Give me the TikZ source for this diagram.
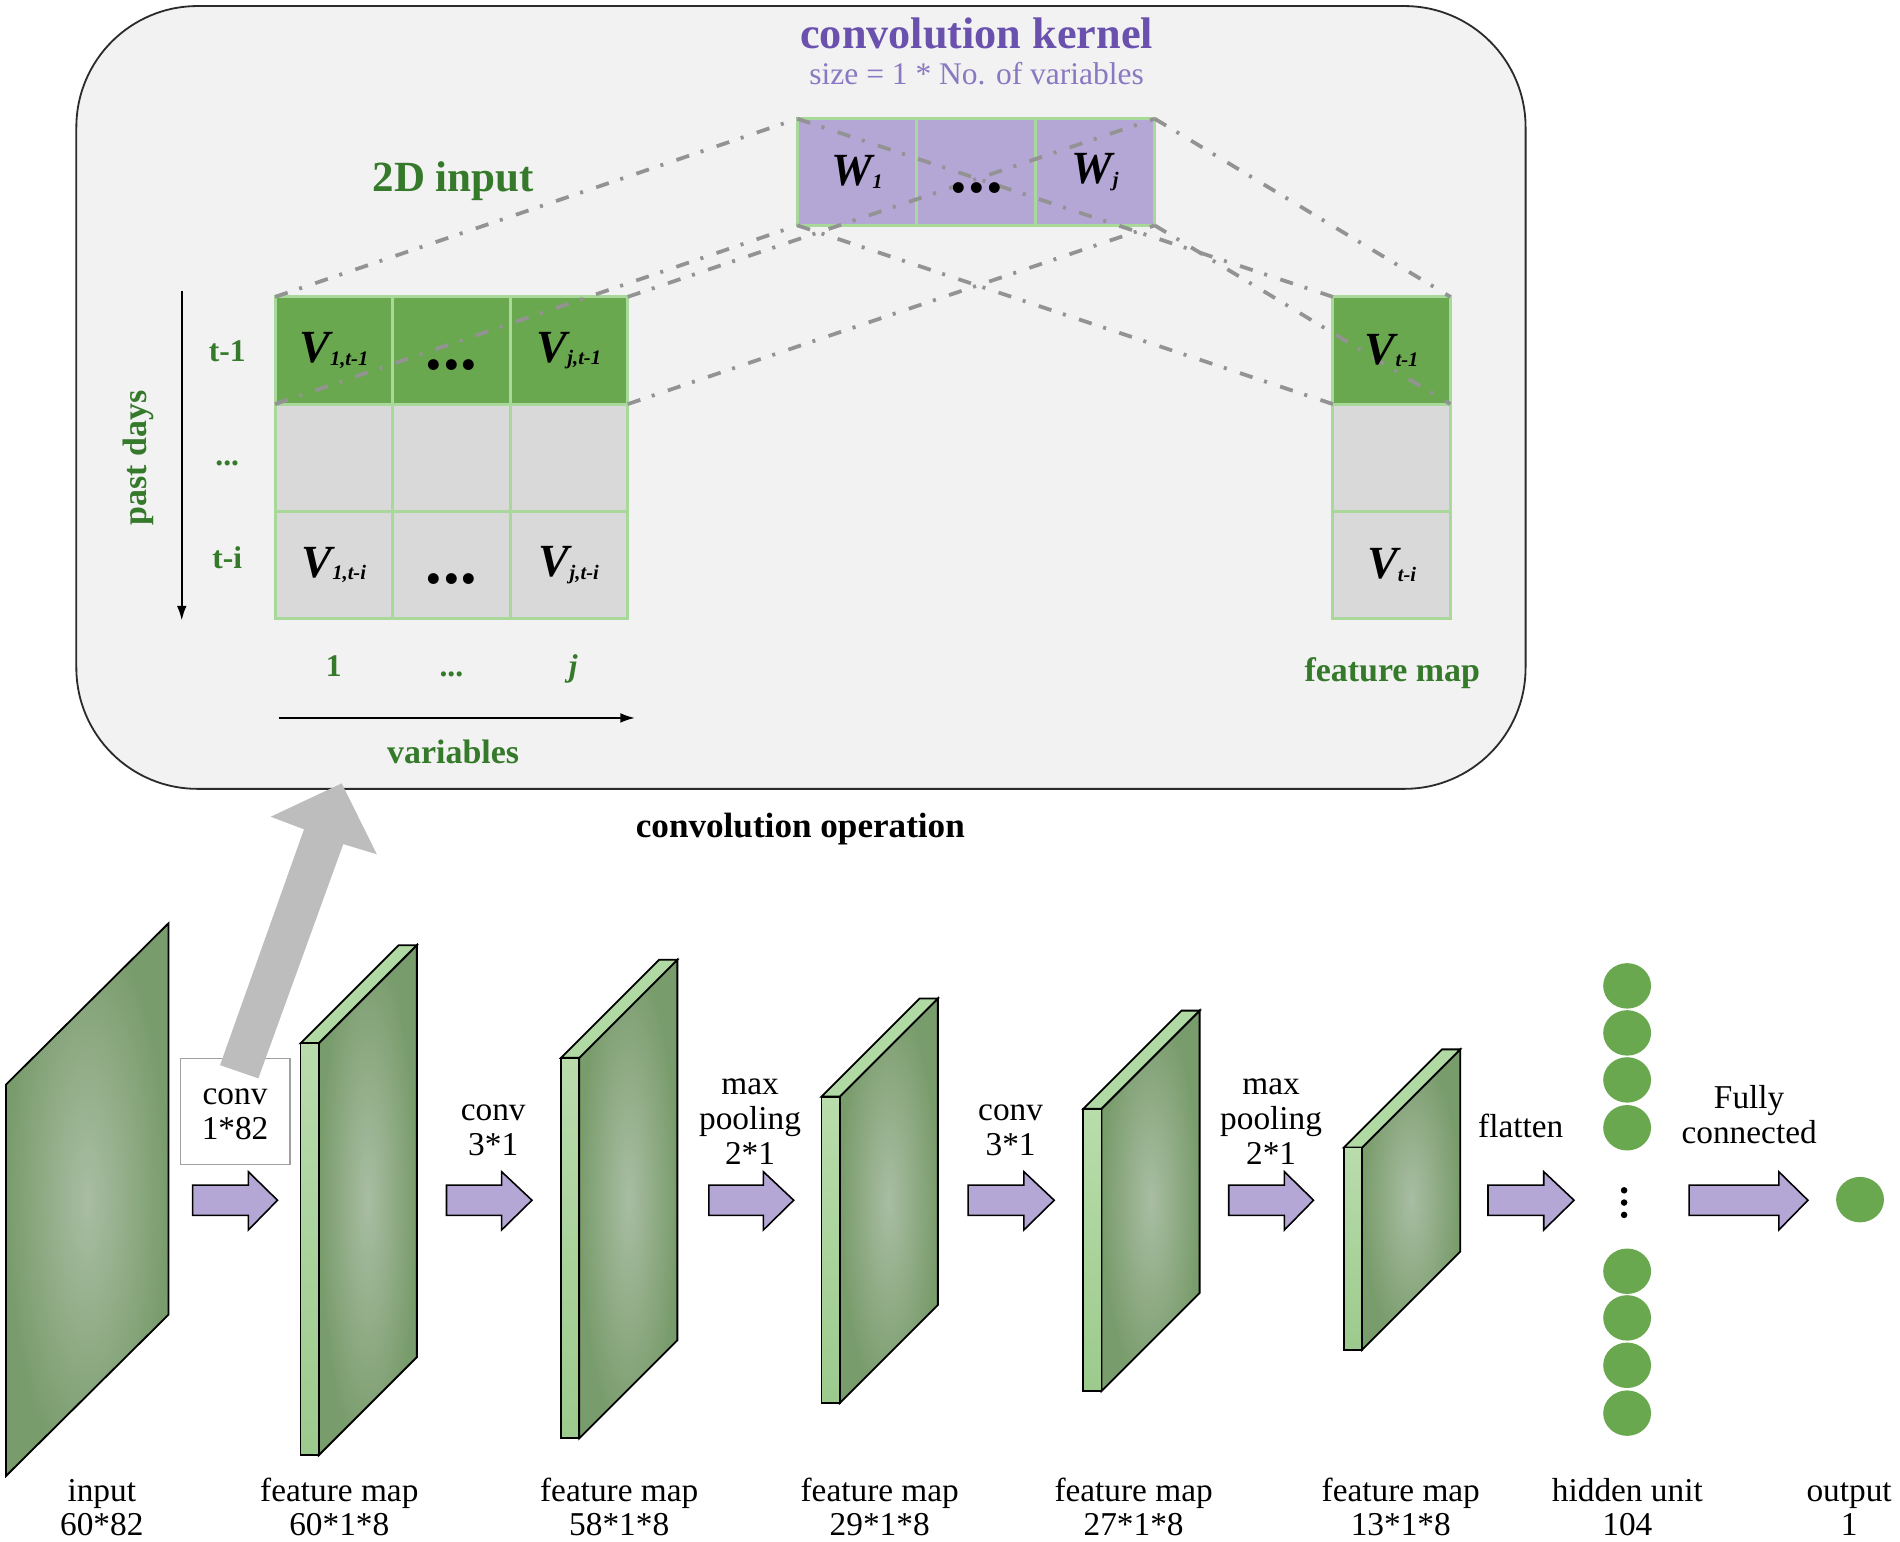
\documentclass[tikz,border=0pt]{standalone}
\usepackage{fontspec}
\setmainfont{Liberation Serif}
\usetikzlibrary{arrows.meta,shapes.geometric}
\definecolor{cgreen}{HTML}{6AA84F}
\definecolor{cborder}{HTML}{A8D89A}
\definecolor{cgray}{HTML}{D9D9D9}
\definecolor{cpurple}{HTML}{B4A7D6}
\definecolor{boxfill}{HTML}{F2F2F2}
\definecolor{boxedge}{HTML}{2B2B2B}
\definecolor{tgreen}{HTML}{35792A}
\definecolor{tpurple}{HTML}{6A51AE}
\definecolor{tpurple2}{HTML}{8A78C2}
\definecolor{dashgray}{HTML}{939393}
\definecolor{bigarrow}{HTML}{BDBDBD}
\definecolor{convedge}{HTML}{A0A0A0}
\definecolor{slabin}{HTML}{A9BDA2}
\definecolor{slabout}{HTML}{799C6C}
\definecolor{slabtop}{HTML}{B0D9A3}
\definecolor{frontA}{HTML}{B9DCAB}
\definecolor{frontM}{HTML}{CBE5C1}
\definecolor{frontB}{HTML}{9CCA8D}
\newcommand{\setfs}[1]{\fontsize{#1}{#1}\selectfont}
\newcommand{\vlab}[2]{#1\raisebox{-2pt}{\setfs{17}#2}}
\newcommand{\drawslab}[3]{%
  \shadedraw[slabedge, inner color=slabin, outer color=slabout] ({#1+15},#2) -- ({#1+96},{#2-81}) -- ({#1+96},{#3-81}) -- ({#1+15},#3) -- cycle;
  \filldraw[slabedge, fill=slabtop] (#1,#2) -- ({#1+15},#2) -- ({#1+96},{#2-81}) -- ({#1+81},{#2-81}) -- cycle;
  \shadedraw[slabedge, top color=frontA, middle color=frontM, bottom color=frontB] (#1,#2) rectangle ({#1+15},#3);
}
\newcommand{\blockarrow}[3]{%
  \filldraw[barrow] (#1,978) -- (#2,978) -- (#2,967) -- (#3,990.5) -- (#2,1015) -- (#2,1003) -- (#1,1003) -- cycle;
}
\tikzset{
  cellbox/.style={draw=cborder, line width=2.5, minimum width=97, minimum height=88.5, inner sep=0, outer sep=0},
  kcell/.style={cellbox, fill=cpurple, minimum width=98.3, minimum height=88},
  vl/.style={inner sep=0, font=\setfs{38}\bfseries\itshape},
  dots/.style={inner sep=0, anchor=base, font=\setfs{55}\bfseries},
  glbl/.style={inner sep=0, anchor=base, text=tgreen, font=\setfs{28}\bfseries},
  rlbl/.style={inner sep=0, anchor=base, text=tgreen, font=\setfs{26}\bfseries},
  lbl/.style={inner sep=0, anchor=base, font=\setfs{27.5}},
  dd/.style={draw=dashgray, line width=3.1, dash pattern=on 11pt off 10pt on 2.5pt off 11.5pt},
  barrow/.style={fill=cpurple, draw=black, line width=1.3},
  slabedge/.style={draw=black, line width=1.5},
  axisarrow/.style={line width=1.5, -{Latex[length=12,width=8]}},
  hid/.style={ellipse, fill=cgreen, minimum width=39.5, minimum height=37.5, inner sep=0},
}
\begin{document}
\begin{tikzpicture}[x=1pt,y=-1pt]
\useasboundingbox (0,0) rectangle (1568,1272);
\fill[white] (0,0) rectangle (1568,1272);

% ---------- convolution operation box ----------
\node[draw=boxedge, fill=boxfill, line width=1.5, rounded corners=100, minimum width=1196, minimum height=646, inner sep=0] (opbox) at (661,328) {};

\node[inner sep=0, anchor=base, text=tpurple, font=\setfs{36.5}\bfseries] (ktitle) at (806,40) {convolution kernel};
\node[inner sep=0, anchor=base, text=tpurple2, font=\setfs{26}] (ksize) at (806,69.5) {size = 1 * No. of variables};
\node[inner sep=0, anchor=base, text=tgreen, font=\setfs{35.5}\bfseries] (in2d) at (374,158) {2D input};

% input grid
\node[cellbox, fill=cgreen] (g11) at (275.5,289.25) {};
\node[cellbox, fill=cgreen] (g12) at (372.5,289.25) {};
\node[cellbox, fill=cgreen] (g13) at (469.5,289.25) {};
\node[cellbox, fill=cgray] (g21) at (275.5,377.75) {};
\node[cellbox, fill=cgray] (g22) at (372.5,377.75) {};
\node[cellbox, fill=cgray] (g23) at (469.5,377.75) {};
\node[cellbox, fill=cgray] (g31) at (275.5,466.25) {};
\node[cellbox, fill=cgray] (g32) at (372.5,466.25) {};
\node[cellbox, fill=cgray] (g33) at (469.5,466.25) {};

% kernel
\node[kcell] (k1) at (707.2,142) {};
\node[kcell] (k2) at (805.5,142) {};
\node[kcell] (k3) at (903.8,142) {};

% feature map column
\node[cellbox, fill=cgreen] (f1) at (1148.5,289.25) {};
\node[cellbox, fill=cgray] (f2) at (1148.5,377.75) {};
\node[cellbox, fill=cgray] (f3) at (1148.5,466.25) {};

% dash-dot projection lines
\draw[dd] (g11.north west) -- (k1.north west);
\draw[dd] (g11.south west) -- (k1.south west);
\draw[dd] (g13.north east) -- (k3.north east);
\draw[dd] (g13.south east) -- (k3.south east);
\draw[dd] (k1.north west) -- (f1.north west);
\draw[dd] (k3.north east) -- (f1.north east);
\draw[dd] (k1.south west) -- (f1.south west);
\draw[dd] (k3.south east) -- (f1.south east);

% cell labels
\node[vl] (lg11) at (g11) {\vlab{V}{1,t-1}};
\node[dots] (lg12) at (372.5,305) {.\kern1pt.\kern1pt.};
\node[vl] (lg13) at (g13) {\vlab{V}{j,t-1}};
\node[vl] (lg31) at (g31) {\vlab{V}{1,t-i}};
\node[dots] (lg32) at (372.5,481.5) {.\kern1pt.\kern1pt.};
\node[vl] (lg33) at (g33) {\vlab{V}{j,t-i}};
\node[vl] (lk1) at (k1) {\vlab{W}{1}};
\node[dots] (lk2) at (806,159) {.\kern1pt.\kern1pt.};
\node[vl] (lk3) at (k3) {\vlab{W}{j}};
\node[vl] (lf1) at (f1) {\vlab{V}{t-1}};
\node[vl] (lf3) at (f3) {\vlab{V}{t-i}};

% row / column labels
\node[rlbl] (r1) at (187.5,298) {t-1};
\node[rlbl] (r2) at (187.5,384) {...};
\node[rlbl] (r3) at (187.5,469.5) {t-i};
\node[rlbl] (c1) at (275.5,558.5) {1};
\node[rlbl] (c2) at (372.5,558.5) {...};
\node[rlbl, font=\setfs{26}\bfseries\itshape] (c3) at (473,558.5) {j};

\node[glbl, anchor=center, rotate=90] (pastdays) at (114,378) {past days};
\node[glbl] (vars) at (374,630) {variables};
\node[glbl] (fmap) at (1149,562) {feature map};

\coordinate (pd1) at (150,240);
\coordinate (pd2) at (150,512);
\draw[axisarrow] (pd1) -- (pd2);
\coordinate (va1) at (230,592.5);
\coordinate (va2) at (524,592.5);
\draw[axisarrow] (va1) -- (va2);

\node[inner sep=0, anchor=base, font=\setfs{29}\bfseries] (convop) at (660.5,691) {convolution operation};

% ---------- network ----------
% input slab
\shadedraw[slabedge, inner color=slabin, outer color=slabout] (5,895) -- (139,762) -- (139,1085) -- (5,1218) -- cycle;
\drawslab{248}{861}{1201}
\drawslab{463}{873}{1187}
\drawslab{678}{905}{1158}
\drawslab{894}{915}{1148}
\drawslab{1109}{947}{1114}

% conv box and big arrow
\node[draw=convedge, fill=white, line width=1.5, minimum width=90, minimum height=87.5, inner sep=0] (convbox) at (194,917.25) {};
\fill[bigarrow] (282,646.5) -- (311,705) -- (283.3,696.6) -- (213.2,889.9) -- (181.6,879) -- (250.9,684.4) -- (223.4,674) -- cycle;
\node[lbl] (cb1) at (194,911.5) {conv};
\node[lbl] (cb2) at (194,940) {1*82};

% block arrows
\blockarrow{159}{205}{229}
\blockarrow{368.5}{414}{439}
\blockarrow{585}{630}{655}
\blockarrow{799}{845}{870}
\blockarrow{1014}{1060}{1084}
\blockarrow{1228}{1274}{1299}
\blockarrow{1394}{1468}{1492}

% arrow labels
\node[lbl] (a2a) at (407,925) {conv};
\node[lbl] (a2b) at (407,953.5) {3*1};
\node[lbl] (a3a) at (619,903) {max};
\node[lbl] (a3b) at (619,932) {pooling};
\node[lbl] (a3c) at (619,961) {2*1};
\node[lbl] (a4a) at (834,925) {conv};
\node[lbl] (a4b) at (834,953.5) {3*1};
\node[lbl] (a5a) at (1049,903) {max};
\node[lbl] (a5b) at (1049,932) {pooling};
\node[lbl] (a5c) at (1049,961) {2*1};
\node[lbl] (a6) at (1255,938.5) {flatten};
\node[lbl] (a7a) at (1443.5,915) {Fully};
\node[lbl] (a7b) at (1443.5,943.5) {connected};

% hidden units
\node[hid] (h1) at (1342.8,813.6) {};
\node[hid] (h2) at (1342.8,852.4) {};
\node[hid] (h3) at (1342.8,891.2) {};
\node[hid] (h4) at (1342.8,930.7) {};
\node[hid] (h5) at (1342.8,1049.1) {};
\node[hid] (h6) at (1342.8,1087.6) {};
\node[hid] (h7) at (1342.8,1126.7) {};
\node[hid] (h8) at (1342.8,1166.2) {};
\fill (1340.3,982.3) circle (2.7);
\fill (1340.3,992.4) circle (2.7);
\fill (1340.3,1002.6) circle (2.7);
\node[hid] (out) at (1535,990) {};

% bottom labels
\node[lbl] (b1a) at (84,1239) {input};
\node[lbl] (b1b) at (84,1267) {60*82};
\node[lbl] (b2a) at (280,1239) {feature map};
\node[lbl] (b2b) at (280,1267) {60*1*8};
\node[lbl] (b3a) at (511,1239) {feature map};
\node[lbl] (b3b) at (511,1267) {58*1*8};
\node[lbl] (b4a) at (726,1239) {feature map};
\node[lbl] (b4b) at (726,1267) {29*1*8};
\node[lbl] (b5a) at (935.5,1239) {feature map};
\node[lbl] (b5b) at (935.5,1267) {27*1*8};
\node[lbl] (b6a) at (1156,1239) {feature map};
\node[lbl] (b6b) at (1156,1267) {13*1*8};
\node[lbl] (b7a) at (1343,1239) {hidden unit};
\node[lbl] (b7b) at (1343,1267) {104};
\node[lbl] (b8a) at (1526,1239) {output};
\node[lbl] (b8b) at (1526,1267) {1};
\end{tikzpicture}
\end{document}
